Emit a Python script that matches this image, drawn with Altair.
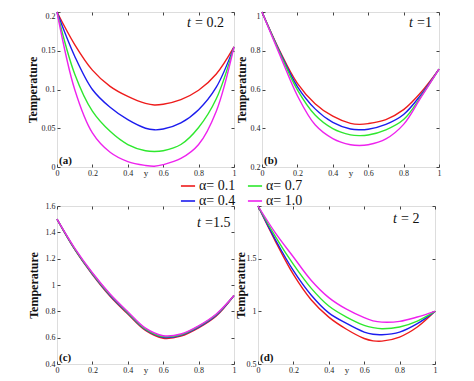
import altair as alt
import pandas as pd

FONT = "'Liberation Serif', 'Times New Roman', Times, 'DejaVu Serif', serif"

# ---------------- data ----------------
X_TICKS = [0, 0.2, 0.4, 0.6, 0.8, 1.0]
ALPHAS = ["α= 0.1", "α= 0.4", "α= 0.7", "α= 1.0"]
COLORS = ["#ee1c1c", "#1c1cee", "#2ee82e", "#ee22ee"]

# panel (a), t = 0.2
XA = [0, 0.1, 0.2, 0.3, 0.4, 0.5, 0.55, 0.6, 0.7, 0.8, 0.9, 1.0]
A_01 = [0.2, 0.158, 0.125, 0.104, 0.091, 0.082, 0.080, 0.081, 0.087, 0.099, 0.120, 0.155]
A_04 = [0.2, 0.143, 0.100, 0.077, 0.061, 0.050, 0.048, 0.049, 0.057, 0.074, 0.103, 0.155]
A_07 = [0.2, 0.120, 0.072, 0.046, 0.029, 0.021, 0.020, 0.021, 0.029, 0.051, 0.088, 0.155]
A_10 = [0.2, 0.100, 0.044, 0.019, 0.007, 0.002, 0.001, 0.003, 0.011, 0.029, 0.072, 0.155]

# panel (b), t = 1
XB = [0, 0.1, 0.2, 0.3, 0.4, 0.5, 0.55, 0.6, 0.7, 0.8, 0.9, 1.0]
B_01 = [1.0, 0.800, 0.632, 0.527, 0.462, 0.425, 0.420, 0.424, 0.445, 0.496, 0.587, 0.705]
B_04 = [1.0, 0.795, 0.615, 0.500, 0.430, 0.396, 0.392, 0.395, 0.420, 0.471, 0.575, 0.705]
B_07 = [1.0, 0.790, 0.598, 0.468, 0.398, 0.366, 0.362, 0.365, 0.392, 0.445, 0.566, 0.705]
B_10 = [1.0, 0.780, 0.568, 0.418, 0.347, 0.315, 0.311, 0.315, 0.345, 0.420, 0.562, 0.705]

# panel (c), t = 1.5
XC = [0, 0.1, 0.2, 0.3, 0.4, 0.5, 0.6, 0.7, 0.8, 0.9, 1.0]
C_01 = [1.5, 1.270, 1.080, 0.915, 0.780, 0.655, 0.596, 0.612, 0.675, 0.765, 0.92]
C_04 = [1.5, 1.272, 1.083, 0.920, 0.785, 0.660, 0.603, 0.618, 0.680, 0.770, 0.92]
C_07 = [1.5, 1.275, 1.087, 0.925, 0.790, 0.665, 0.608, 0.622, 0.686, 0.776, 0.92]
C_10 = [1.5, 1.280, 1.093, 0.932, 0.797, 0.672, 0.615, 0.628, 0.690, 0.780, 0.92]

# panel (d), t = 2
XD = [0, 0.1, 0.2, 0.3, 0.4, 0.5, 0.6, 0.65, 0.7, 0.8, 0.9, 1.0]
D_01 = [2.0, 1.660, 1.350, 1.110, 0.945, 0.830, 0.742, 0.720, 0.717, 0.756, 0.851, 1.0]
D_04 = [2.0, 1.675, 1.386, 1.155, 0.985, 0.885, 0.803, 0.782, 0.778, 0.803, 0.883, 1.0]
D_07 = [2.0, 1.705, 1.445, 1.220, 1.050, 0.945, 0.867, 0.845, 0.835, 0.851, 0.908, 1.0]
D_10 = [2.0, 1.740, 1.516, 1.295, 1.130, 1.020, 0.940, 0.910, 0.898, 0.905, 0.946, 1.0]

PANELS = [
    dict(x=XA, s=[A_01, A_04, A_07, A_10], dom=[0, 0.2], ticks=[0, 0.05, 0.1, 0.15, 0.2],
         labels=[0, 0.05, 0.1, 0.15, 0.2], fmt=".2~f", letter="(a)", tval="= 0.2",
         tdx=-47, tdy=15, flush_top=True),
    dict(x=XB, s=[B_01, B_04, B_07, B_10], dom=[0.2, 1.0], ticks=[0.2, 0.4, 0.6, 0.8, 1.0],
         labels=[0.2, 0.4, 0.6, 0.8, 1.0], fmt=".1~f", letter="(b)", tval="=1",
         tdx=-30, tdy=15, flush_top=True),
    dict(x=XC, s=[C_01, C_04, C_07, C_10], dom=[0.4, 1.6], ticks=[0.4, 0.6, 0.8, 1.0, 1.2, 1.4, 1.6],
         labels=[0.4, 0.6, 0.8, 1.0, 1.2, 1.4, 1.6], fmt=".1~f", letter="(c)", tval="=1.5",
         tdx=-37, tdy=21, flush_top=False),
    dict(x=XD, s=[D_01, D_04, D_07, D_10], dom=[0.5, 2.0], ticks=[0.5, 1.0, 1.5, 2.0],
         labels=[0.5, 1.0, 1.5], fmt=".1~f", letter="(d)", tval="= 2",
         tdx=-42, tdy=17, flush_top=False),
]

W = 177


def panel(p, extent, height):
    rows = []
    for name, ys in zip(ALPHAS, p["s"]):
        for xv, yv in zip(p["x"], ys):
            rows.append({"y": xv, "T": yv, "alpha": name})
    df = pd.DataFrame(rows)
    ymin, ymax = p["dom"]
    xs = alt.Scale(domain=[0, 1], nice=False, zero=False)
    ys = alt.Scale(domain=p["dom"], nice=False, zero=False)
    color = alt.Color(
        "alpha:N",
        scale=alt.Scale(domain=ALPHAS, range=COLORS),
        legend=alt.Legend(
            title=None, orient="none", legendX=123, legendY=166, columns=2,
            values=ALPHAS,
            symbolType="stroke", symbolSize=200, symbolStrokeWidth=1.6,
            labelFont=FONT, labelFontSize=14, labelColor="#111",
            labelOffset=3, columnPadding=8, rowPadding=-3, padding=0,
        ),
    )
    if p["flush_top"]:
        ybase = {"condition": {"test": f"datum.value >= {ymax - 1e-9}", "value": "top"},
                 "value": "middle"}
    else:
        ybase = "middle"
    base = alt.Chart(df)
    lines = base.mark_line(strokeWidth=1.4, interpolate="catmull-rom").encode(
        x=alt.X("y:Q", scale=xs, axis=alt.Axis(
            orient="bottom", values=X_TICKS, format=".1~f", ticks=False, domain=False,
            grid=False, labelPadding=2, labelFontSize=8, labelFont=FONT, labelColor="#222",
            labelFlush=False, labelOverlap=False,
            title="y", titleFont=FONT, titleFontSize=9, titleFontWeight="normal",
            titleBaseline="top", titleY=1, titleColor="#222")),
        y=alt.Y("T:Q", scale=ys, axis=alt.Axis(
            orient="left", values=p["labels"], format=p["fmt"], ticks=False, domain=False,
            grid=False, labelPadding=2, labelFontSize=8, labelFont=FONT, labelColor="#222",
            labelFlush=False, labelOverlap=False, labelBaseline=ybase,
            minExtent=extent, maxExtent=extent,
            title="Temperature", titleFont=FONT, titleFontSize=12, titleFontWeight="bold",
            titlePadding=2, titleColor="#111")),
        color=color,
    )
    tick_axis = dict(labels=False, domain=False, grid=False, ticks=True,
                     tickSize=3, tickColor="#444", title=None, offset=-3)
    tx1 = dict(tick_axis, values=X_TICKS)
    ty1 = dict(tick_axis, values=p["ticks"])
    ticks_bl = base.mark_line(opacity=0).encode(
        x=alt.X("y:Q", scale=xs, axis=alt.Axis(orient="bottom", **tx1)),
        y=alt.Y("T:Q", scale=ys, axis=alt.Axis(orient="left", **ty1)),
    )
    ticks_tr = base.mark_line(opacity=0).encode(
        x=alt.X("y:Q", scale=xs, axis=alt.Axis(orient="top", **tx1)),
        y=alt.Y("T:Q", scale=ys, axis=alt.Axis(orient="right", **ty1)),
    )
    lab = alt.Chart(pd.DataFrame({"y": [0], "T": [ymin], "txt": [p["letter"]]})).mark_text(
        font=FONT, fontSize=11, fontWeight="bold", align="left", baseline="alphabetic",
        dx=2, dy=-3, color="#111"
    ).encode(x=alt.X("y:Q", scale=xs, axis=None), y=alt.Y("T:Q", scale=ys, axis=None), text="txt:N")
    tt = alt.Chart(pd.DataFrame({"y": [1], "T": [ymax], "txt": ["t"]})).mark_text(
        font=FONT, fontSize=14, fontStyle="italic", align="left", baseline="alphabetic",
        dx=p["tdx"], dy=p["tdy"], color="#111"
    ).encode(x=alt.X("y:Q", scale=xs, axis=None), y=alt.Y("T:Q", scale=ys, axis=None), text="txt:N")
    tv = alt.Chart(pd.DataFrame({"y": [1], "T": [ymax], "txt": [p["tval"]]})).mark_text(
        font=FONT, fontSize=14, align="left", baseline="alphabetic",
        dx=p["tdx"] + 8, dy=p["tdy"], color="#111"
    ).encode(x=alt.X("y:Q", scale=xs, axis=None), y=alt.Y("T:Q", scale=ys, axis=None), text="txt:N")
    return alt.layer(lines, ticks_bl, ticks_tr, lab, tt, tv).resolve_axis(
        x="independent", y="independent").properties(width=W, height=height)


pa = panel(PANELS[0], 16, 155)
pb = panel(PANELS[1], 12, 155)
pc = panel(PANELS[2], 15, 158)
pd_ = panel(PANELS[3], 9, 158)

chart = alt.vconcat(
    alt.hconcat(pa, pb, spacing=-4),
    alt.hconcat(pc, pd_, spacing=-5),
    spacing=23,
).properties(
    padding={"left": 17, "top": 0, "right": 0, "bottom": 0}
).configure_view(
    stroke="#555", strokeWidth=1
).configure(background="white")

chart.save("out.html", embed_options={"renderer": "svg", "actions": False})
